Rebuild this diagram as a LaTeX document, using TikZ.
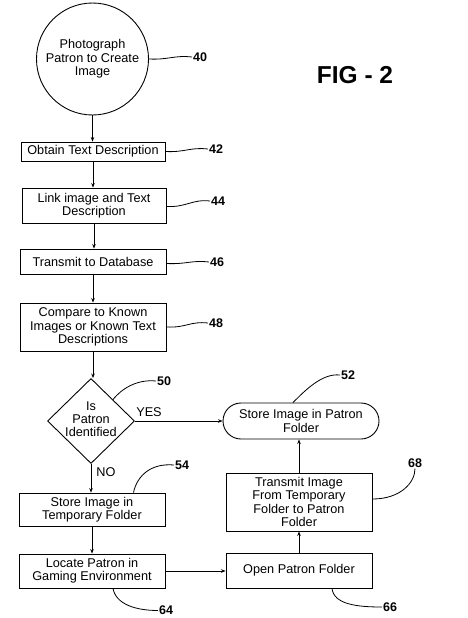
\documentclass[tikz,border=0pt]{standalone}
\usepackage{fontspec}
\setmainfont{Liberation Sans}
\usetikzlibrary{shapes.geometric,arrows.meta}
\newcommand\boxfont{\fontsize{12.7}{13.3}\selectfont}
\newcommand\numfont{\bfseries\fontsize{12.5}{14}\selectfont}
\tikzset{
  box/.style={draw, line width=0.9pt, inner sep=0pt, align=center, font=\boxfont},
  arr/.style={draw, line width=0.8pt, -{Stealth[length=4.5pt,width=3.5pt]}},
  lead/.style={draw, line width=0.8pt},
  num/.style={font=\numfont, inner sep=1pt},
  lbl/.style={font=\boxfont, inner sep=1pt}
}
\begin{document}
\begin{tikzpicture}[x=1pt,y=-1pt]
\useasboundingbox (0,0) rectangle (467,618);
% nodes
\node[circle, draw, line width=0.9pt, minimum size=112pt, inner sep=0pt, align=center, font=\boxfont] (circ) at (92.5,59) {Photograph\\Patron to Create\\Image};
\node[box, minimum width=144pt, minimum height=19pt] (b42) at (93,151.5) {Obtain Text Description};
\node[box, minimum width=144pt, minimum height=35pt] (b44) at (94,205.5) {Link image and Text\\Description};
\node[box, minimum width=146pt, minimum height=25pt] (b46) at (93,261.5) {Transmit to Database};
\node[box, minimum width=146pt, minimum height=48pt] (b48) at (93,327) {Compare to Known\\Images or Known Text\\Descriptions};
\node[diamond, draw, line width=0.9pt, minimum width=87pt, minimum height=85pt, inner sep=0pt] (dia) at (91,421) {};
\node[align=center, font=\boxfont, inner sep=0pt] (diat) at (91,419) {Is\\Patron\\Identified};
\node[box, rounded corners=18pt, minimum width=156pt, minimum height=36pt] (b52) at (301,421) {Store Image in Patron\\Folder};
\node[box, minimum width=146pt, minimum height=58pt] (b68) at (299,502) {Transmit Image\\From Temporary\\Folder to Patron\\Folder};
\node[box, minimum width=146pt, minimum height=33pt] (b54) at (92,509.5) {Store Image in\\Temporary Folder};
\node[box, minimum width=146pt, minimum height=34pt] (b64) at (92,571) {Locate Patron in\\Gaming Environment};
\node[box, minimum width=146pt, minimum height=35pt] (b66) at (299,570.5) {Open Patron Folder};
\node[font=\bfseries\fontsize{24.5}{28}\selectfont] (fig) at (355,75) {FIG - 2};
% reference numerals
\node[num, anchor=west] (l40) at (192,57) {40};
\node[num, anchor=west] (l42) at (208,149) {42};
\node[num, anchor=west] (l44) at (210,201) {44};
\node[num, anchor=west] (l46) at (209,262) {46};
\node[num, anchor=west] (l48) at (208,323) {48};
\node[num, anchor=west] (l50) at (156,381) {50};
\node[num, anchor=west] (l54) at (174,465) {54};
\node[num, anchor=west] (l64) at (158,610.5) {64};
\node[num, anchor=west] (l52) at (340,375) {52};
\node[num] (l68) at (415,463) {68};
\node[num, anchor=west] (l66) at (382,607) {66};
% YES / NO
\node[lbl] (yes) at (149,412) {YES};
\node[lbl] (no) at (106,472) {NO};
% flow arrows
\draw[arr] (circ.south) -- (circ.south |- b42.north);
\draw[arr] (b42.south) -- (b42.south |- b44.north);
\draw[arr] (b44.south) -- (b44.south |- b46.north);
\draw[arr] (b46.south) -- (b46.south |- b48.north);
\draw[arr] (b48.south) -- (b48.south |- dia.north);
\draw[arr] (dia.south) -- (dia.south |- b54.north);
\draw[arr] (b54.south) -- (b54.south |- b64.north);
\draw[arr] (dia.east) -- (dia.east -| b52.west);
\draw[arr] (b64.east) -- (b64.east -| b66.west);
\draw[arr] (b66.north) -- (b66.north |- b68.south);
\draw[arr] (b68.north) -- (b68.north |- b52.south);
% leader lines
\draw[lead] (circ.east) .. controls +(20,1) and +(-18,-2) .. (l40.west);
\draw[lead] (b42.east) .. controls +(20,1) and +(-18,-2) .. (l42.west);
\draw[lead] ([yshift=-1pt]b44.east) .. controls +(20,1) and +(-18,-2) .. (l44.west);
\draw[lead] ([yshift=-2pt]b46.east) .. controls +(20,1) and +(-18,-2) .. (l46.west);
\draw[lead] (b48.east) .. controls +(20,1) and +(-18,-2) .. (l48.west);
\draw[lead] (dia.north east) .. controls +(8,-10) and +(-20,-2) .. (l50.west);
\draw[lead] ([xshift=-32pt]b54.north east) .. controls +(4,-18) and +(-22,-2) .. (l54.west);
\draw[lead] ([xshift=21pt]b64.south) .. controls +(3,16) and +(-22,0) .. (l64.west);
\draw[lead] ([xshift=-8pt]b52.north) .. controls +(12,-12) and +(-18,-2) .. (l52.west);
\draw[lead] ([yshift=3pt]b68.east) .. controls +(28,0) and +(0,14) .. (l68.south);
\draw[lead] ([xshift=33pt]b66.south) .. controls +(2,16) and +(-25,0) .. (l66.west);
\end{tikzpicture}
\end{document}
